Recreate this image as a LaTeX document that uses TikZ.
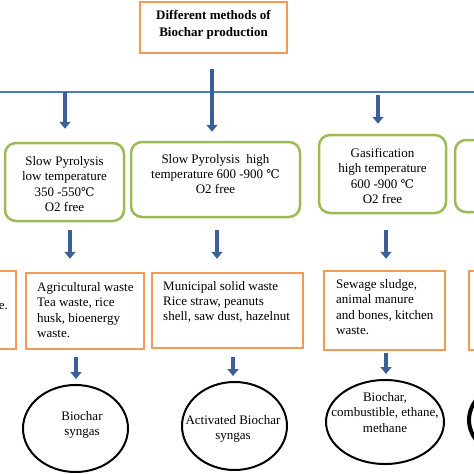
\documentclass[tikz,border=0pt]{standalone}
\usepackage{fontspec}
\setmainfont{Liberation Serif}
\newfontfamily\degfont[Scale=0.92]{DejaVu Serif}
\newcommand{\degC}{{\degfont ℃}}
\usetikzlibrary{arrows.meta,shapes.geometric}
\definecolor{obox}{HTML}{F39A55}
\definecolor{gboxc}{HTML}{9BBB59}
\definecolor{hlinec}{HTML}{4A7EBB}
\definecolor{arrc}{HTML}{3B6098}
\begin{document}
\begin{tikzpicture}[x=1pt,y=-1pt,
  txt/.style={font=\fontsize{13}{15.4}\selectfont, inner sep=0pt, align=center},
  ltxt/.style={txt, align=left, anchor=west},
  gboxst/.style={draw=gboxc, line width=2.5pt, rounded corners=11pt, inner sep=0pt},
  oboxst/.style={draw=obox, line width=2.5pt, inner sep=0pt},
  ell/.style={draw=black, line width=2pt, ellipse, inner sep=0pt},
  arr/.style={draw=arrc, line width=3.5pt, -{Triangle[length=7pt,width=11pt]}},
  hl/.style={draw=hlinec, line width=2pt}]
\useasboundingbox (0,0) rectangle (474,474);
\clip (0,0) rectangle (474,474);
% title
\node[oboxst, minimum width=147pt, minimum height=51pt] (title) at (213.5,27.5) {};
\node[txt, font=\bfseries\fontsize{13}{16.5}\selectfont] (titlet) at (213.5,25) {Different methods of\\Biochar production};
% horizontal line
\coordinate (hl0) at (-5,92);
\coordinate (hl1) at (480,92);
\draw[hl] (hl0) -- (hl1);
% green boxes
\node[gboxst, minimum width=119pt, minimum height=78pt] (g1) at (64.5,182) {};
\node[gboxst, minimum width=169pt, minimum height=75pt] (g2) at (215.5,179.5) {};
\node[gboxst, minimum width=127pt, minimum height=78pt] (g3) at (382.5,174) {};
\node[gboxst, minimum width=120pt, minimum height=72pt] (g4) at (515,176) {};
\node[txt] (g1t) at (64.5,184) {Slow Pyrolysis\\low temperature\\350 -550\degC\\O2 free};
\node[txt] (g2t) at (215.5,174) {Slow Pyrolysis~ high\\temperature 600 -900 \degC\\O2 free};
\node[txt] (g3t) at (382.5,176) {Gasification\\high temperature\\600 -900 \degC\\O2 free};
% orange boxes
\node[oboxst, minimum width=120pt, minimum height=78pt] (o0) at (-44,310) {};
\node[oboxst, minimum width=118pt, minimum height=76pt] (o1) at (85,311) {};
\node[oboxst, minimum width=151pt, minimum height=75pt] (o2) at (227.5,310.5) {};
\node[oboxst, minimum width=121pt, minimum height=79pt] (o3) at (384.5,310.5) {};
\node[oboxst, minimum width=121pt, minimum height=79pt] (o4) at (529.5,310.5) {};
\node[txt, anchor=east] (o0t) at (8,307) {e.};
\node[ltxt] (o1t) at (37,310) {Agricultural waste\\Tea waste, rice\\husk, bioenergy\\waste.};
\node[ltxt] (o2t) at (163,302) {Municipal solid waste\\Rice straw, peanuts\\shell, saw dust, hazelnut};
\node[ltxt] (o3t) at (336,307) {Sewage sludge,\\animal manure\\and bones, kitchen\\waste.};
% ellipses
\node[ell, minimum width=105pt, minimum height=87pt] (e1) at (75.5,428.5) {};
\node[ell, minimum width=105pt, minimum height=88pt] (e2) at (234.5,426) {};
\node[ell, minimum width=118pt, minimum height=84pt] (e3) at (385,422) {};
\node[ell, line width=4pt, minimum width=118pt, minimum height=84pt] (e4) at (528,420) {};
\node[txt] (e1t) at (82,425) {Biochar\\syngas};
\node[txt] (e2t) at (233,429) {Activated Biochar\\syngas};
\node[txt] (e3t) at (385,412.5) {Biochar,\\combustible, ethane,\\methane};
% arrows from line to green boxes
\coordinate (a1) at (65,92);
\coordinate (t0) at (212,69);
\coordinate (a3) at (378,95);
\draw[arr, shorten >=13pt] (a1) -- (a1 |- g1.north);
\draw[arr, shorten >=9pt] (t0) -- (t0 |- g2.north);
\draw[arr, shorten >=10pt] (a3) -- (a3 |- g3.north);
% green to orange
\coordinate (c1) at (70,0);
\coordinate (c2) at (217,0);
\coordinate (c3) at (386,0);
\draw[arr, shorten <=8pt, shorten >=13pt] (g1.south -| c1) -- (o1.north -| c1);
\draw[arr, shorten <=12pt, shorten >=13pt] (g2.south -| c2) -- (o2.north -| c2);
\draw[arr, shorten <=16pt, shorten >=11pt] (g3.south -| c3) -- (o3.north -| c3);
% orange to ellipses
\coordinate (d1) at (76,0);
\coordinate (d2) at (233,0);
\coordinate (d3) at (386,0);
\draw[arr, shorten <=7pt, shorten >=5pt] (o1.south -| d1) -- (e1.north -| d1);
\draw[arr, shorten <=8pt, shorten >=5pt] (o2.south -| d2) -- (e2.north -| d2);
\draw[arr, shorten <=2pt, shorten >=5pt] (o3.south -| d3) -- (e3.north -| d3);
\end{tikzpicture}
\end{document}
